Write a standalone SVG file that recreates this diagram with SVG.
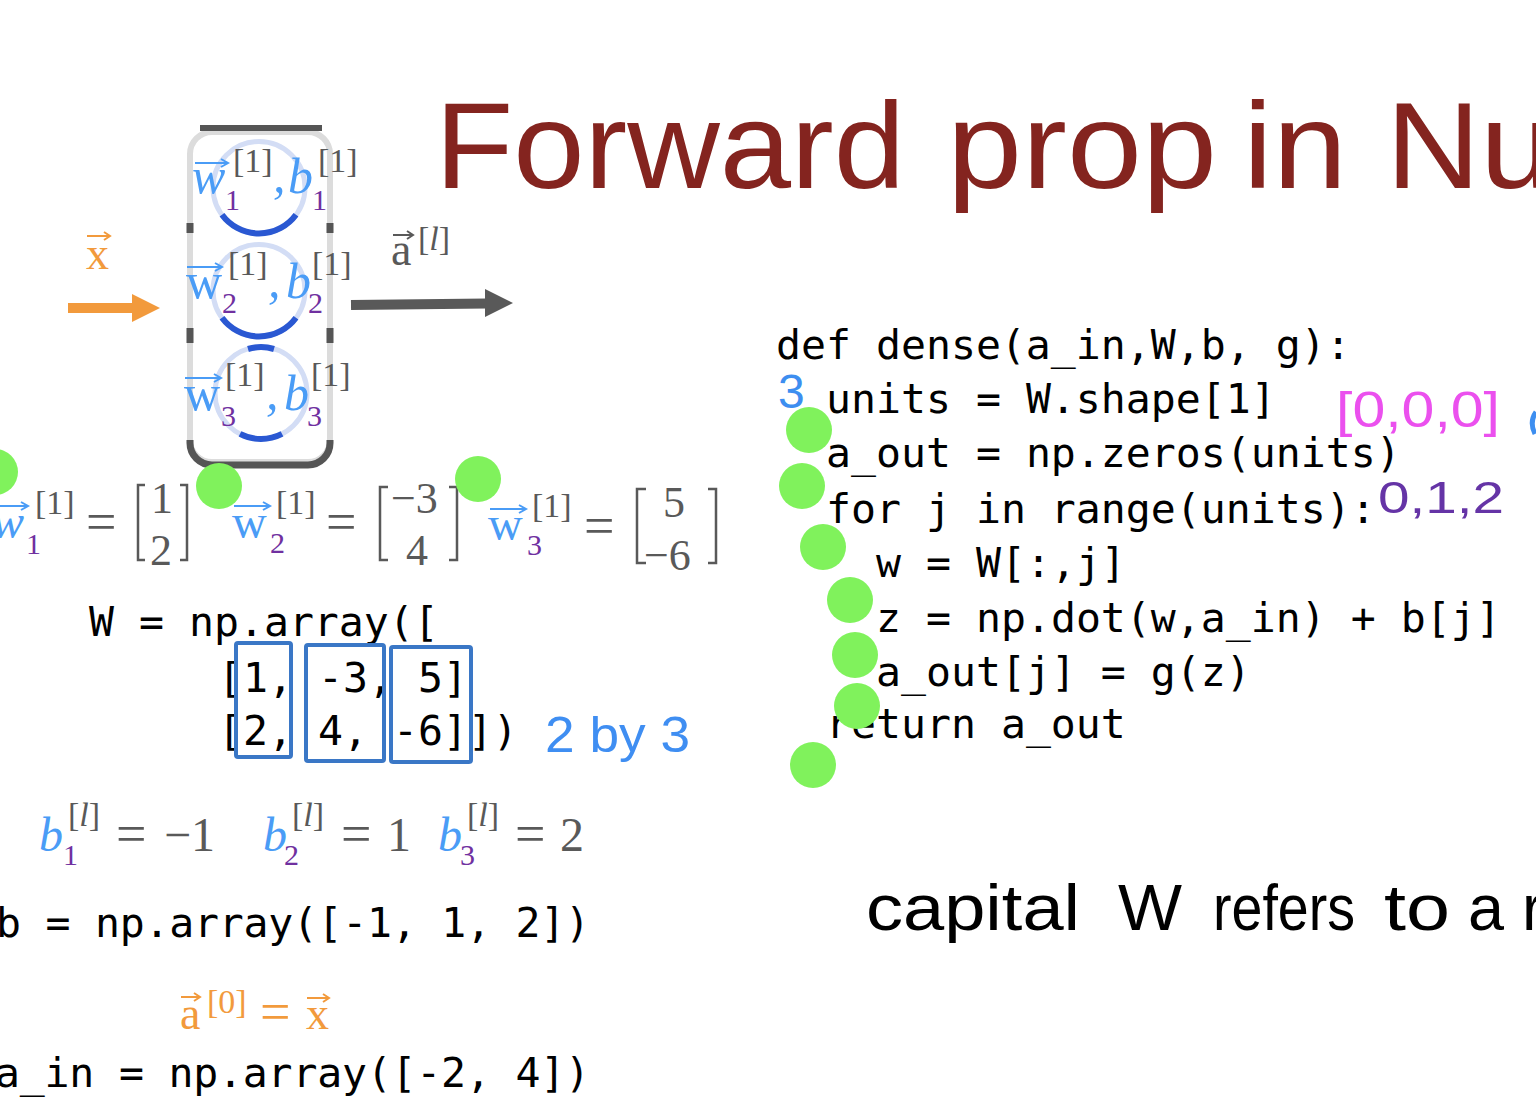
<svg xmlns="http://www.w3.org/2000/svg" width="1536" height="1114" viewBox="0 0 1536 1114">
<style>
.mono{font-family:"DejaVu Sans Mono","Liberation Mono",monospace;font-size:41.5px;fill:#000}
.m{font-family:"Liberation Serif",serif}
.it{font-style:italic}
.blue{fill:#4a9cf6}
.purple{fill:#7030a0}
.gray{fill:#595959}
.orange{fill:#f29a3c}
.main{font-size:50px}
.eq{font-size:48px}
.sup{font-size:34px}
.sub{font-size:30px}
.vec{fill:none;stroke-width:2}
.vb{stroke:#4a9cf6}
.vo{stroke:#f29a3c}
.vg{stroke:#595959}
.br{fill:none;stroke:#595959;stroke-width:2.5}
.green{fill:#80f25c}
.hand{font-family:"Liberation Sans",sans-serif}
.ring{fill:none;stroke:#d3ddf5;stroke-width:5}
.arc{fill:none;stroke:#2a58d2;stroke-width:6}
.box{fill:none;stroke:#3a77c6;stroke-width:4}
</style>

<!-- title -->
<g id="title" font-family="Liberation Sans, sans-serif" font-size="122" fill="#84241f">
<text x="435" y="188" textLength="470" lengthAdjust="spacingAndGlyphs">Forward</text>
<text x="947" y="188" textLength="270" lengthAdjust="spacingAndGlyphs">prop</text>
<text x="1243" y="188" textLength="104" lengthAdjust="spacingAndGlyphs">in</text>
<text x="1386" y="188" textLength="167" lengthAdjust="spacingAndGlyphs">Nu</text>
</g>

<!-- layer box -->
<g id="layer">
<rect x="190" y="132" width="140" height="330" rx="22" fill="none" stroke="#dcdcdc" stroke-width="6"/>
<path d="M200,128 H322" stroke="#555" stroke-width="6" fill="none"/>
<path d="M190,440 V443 A22,22 0 0 0 212,465 H308 A22,22 0 0 0 330,443 V440" stroke="#555" stroke-width="7" fill="none"/>
<path d="M190,223 V233 M190,328 V343 M330,223 V233 M330,328 V343" stroke="#555" stroke-width="7" fill="none"/>
</g>

<g id="neuron1">
<circle class="ring" cx="259" cy="187.5" r="46"/>
<path class="arc" d="M222,214.8 A46,46 0 0 0 296,214.8"/>
<text class="m it blue main" x="192" y="193">w</text>
<path class="vec vb" d="M195,163 H228 M221,159 L228,163 L221,167"/>
<text class="m purple sub" x="225" y="210">1</text>
<text class="m gray sup" x="233" y="172">[1]</text>
<text class="m it blue main" x="273" y="192">,</text>
<text class="m it blue main" x="288" y="193">b</text>
<text class="m purple sub" x="312" y="210">1</text>
<text class="m gray sup" x="318" y="172">[1]</text>
</g>

<g id="neuron2">
<circle class="ring" cx="259" cy="290.5" r="46"/>
<path class="arc" d="M222,317.8 A46,46 0 0 0 296,317.8"/>
<text class="m blue main" x="186" y="298">w</text>
<path class="vec vb" d="M187,267 H222 M215,263 L222,267 L215,271"/>
<text class="m purple sub" x="222" y="313">2</text>
<text class="m gray sup" x="228" y="275">[1]</text>
<text class="m it blue main" x="268" y="297">,</text>
<text class="m it blue main" x="286" y="298">b</text>
<text class="m purple sub" x="308" y="313">2</text>
<text class="m gray sup" x="312" y="275">[1]</text>
</g>

<g id="neuron3">
<circle class="ring" cx="261" cy="393" r="46"/>
<path class="arc" d="M240,433.9 A46,46 0 0 0 282,433.9"/>
<path class="arc" stroke-width="4" d="M248,349 A46,46 0 0 1 274,349"/>
<text class="m blue main" x="184" y="410">w</text>
<path class="vec vb" d="M185,378 H221 M214,374 L221,378 L214,382"/>
<text class="m purple sub" x="221" y="426">3</text>
<text class="m gray sup" x="225" y="386">[1]</text>
<text class="m it blue main" x="266" y="409">,</text>
<text class="m it blue main" x="284" y="410">b</text>
<text class="m purple sub" x="307" y="426">3</text>
<text class="m gray sup" x="311" y="386">[1]</text>
</g>

<g id="input-x">
<text class="m orange" font-size="46" x="86" y="269">x</text>
<path class="vec vo" d="M87,236 H110 M104,232 L110,236 L104,240"/>
</g>

<g id="output-a">
<text class="m gray" font-size="46" x="391" y="265">a</text>
<path class="vec vg" d="M393,235 H413 M407,231 L413,235 L407,239"/>
<text class="m gray sup" x="418" y="250">[<tspan font-style="italic">l</tspan>]</text>
</g>

<g id="connectors">
<path d="M68,308 H134" stroke="#f29a3c" stroke-width="10" fill="none"/>
<polygon points="132,294 160,308 132,322" fill="#f29a3c"/>
<path d="M351,305 L487,303.5" stroke="#595959" stroke-width="10" fill="none"/>
<polygon points="485,289 513,303 485,317" fill="#595959"/>
</g>

<!-- w vectors equations -->
<g id="eq-w1">
<text class="m it blue eq" x="-8" y="538">w</text>
<path class="vec vb" d="M0,506 H28 M21,502 L28,506 L21,510"/>
<text class="m purple sub" x="26" y="554">1</text>
<text class="m gray sup" font-size="36" x="35" y="514">[1]</text>
<text class="m gray" font-size="54" x="86" y="540">=</text>
<path class="br" d="M145,485 H138 V560 H145 M180,485 H187 V560 H180"/>
<text class="m gray" font-size="44" x="151" y="513">1</text>
<text class="m gray" font-size="44" x="150" y="565">2</text>
</g>

<g id="eq-w2">
<text class="m blue eq" x="232" y="538">w</text>
<path class="vec vb" d="M234,506 H270 M263,502 L270,506 L263,510"/>
<text class="m purple sub" x="270" y="553">2</text>
<text class="m gray sup" font-size="36" x="276" y="514">[1]</text>
<text class="m gray" font-size="54" x="326" y="540">=</text>
<path class="br" d="M388,487 H380 V560 H388"/>
<path class="br" stroke="#d8d8d8" d="M449,487 H457 V560 H449"/>
<text class="m gray" font-size="44" x="391" y="513">−3</text>
<text class="m gray" font-size="44" x="406" y="565">4</text>
</g>

<g id="eq-w3">
<text class="m blue eq" x="488" y="540">w</text>
<path class="vec vb" d="M490,509 H526 M519,505 L526,509 L519,513"/>
<text class="m purple sub" x="527" y="555">3</text>
<text class="m gray sup" font-size="36" x="532" y="517">[1]</text>
<text class="m gray" font-size="54" x="584" y="544">=</text>
<path class="br" d="M646,489 H637 V563 H646 M708,489 H716 V563 H708"/>
<text class="m gray" font-size="44" x="663" y="517">5</text>
<text class="m gray" font-size="44" x="644" y="570">−6</text>
</g>

<g id="code-W">
<text class="mono" x="89" y="636">W = np.array([</text>
<text class="mono" x="218" y="692">[1, -3, 5]</text>
<text class="mono" x="218" y="745">[2, 4, -6]])</text>
<rect class="box" x="236" y="643" width="55" height="114" rx="2"/>
<rect class="box" x="306" y="645" width="78" height="116" rx="2"/>
<rect class="box" x="391" y="647" width="80" height="115" rx="2"/>
<text class="hand" font-size="50" fill="#3f8ef2" x="545" y="752" textLength="145" lengthAdjust="spacingAndGlyphs">2 by 3</text>
</g>

<g id="eq-b">
<text class="m it blue eq" x="39" y="851">b</text>
<text class="m purple sub" x="63" y="865">1</text>
<text class="m gray sup" font-size="36" x="68" y="826">[<tspan font-style="italic">l</tspan>]</text>
<text class="m gray" font-size="54" x="116" y="852">=</text>
<text class="m gray eq" x="164" y="851">−1</text>

<text class="m it blue eq" x="263" y="851">b</text>
<text class="m purple sub" x="284" y="865">2</text>
<text class="m gray sup" font-size="36" x="292" y="826">[<tspan font-style="italic">l</tspan>]</text>
<text class="m gray" font-size="54" x="341" y="852">=</text>
<text class="m gray eq" x="387" y="851">1</text>

<text class="m it blue eq" x="438" y="851">b</text>
<text class="m purple sub" x="460" y="865">3</text>
<text class="m gray sup" font-size="36" x="467" y="826">[<tspan font-style="italic">l</tspan>]</text>
<text class="m gray" font-size="54" x="515" y="852">=</text>
<text class="m gray eq" x="560" y="851">2</text>
</g>

<g id="code-b">
<text class="mono" x="-4" y="937" textLength="594">b = np.array([-1, 1, 2])</text>
</g>

<g id="eq-a0">
<text class="m orange" font-size="46" x="180" y="1029">a</text>
<path class="vec vo" d="M181,997 H200 M194,993 L200,997 L194,1001"/>
<text class="m orange sup" font-size="36" x="207" y="1013">[0]</text>
<text class="m orange" font-size="54" x="260" y="1030">=</text>
<text class="m orange" font-size="46" x="306" y="1029">x</text>
<path class="vec vo" d="M307,998 H329 M323,994 L329,998 L323,1002"/>
</g>

<g id="code-ain">
<text class="mono" x="-5" y="1087" textLength="595">a_in = np.array([-2, 4])</text>
</g>

<g id="code-dense">
<text class="mono" x="776" y="359">def dense(a_in,W,b, g):</text>
<text class="mono" x="826" y="413">units = W.shape[1]</text>
<text class="mono" x="826" y="467">a_out = np.zeros(units)</text>
<text class="mono" x="826" y="523">for j in range(units):</text>
<text class="mono" x="876" y="577">w = W[:,j]</text>
<text class="mono" x="876" y="632">z = np.dot(w,a_in) + b[j]</text>
<text class="mono" x="876" y="686">a_out[j] = g(z)</text>
<text class="mono" x="826" y="738">return a_out</text>
</g>

<g id="annotations">
<text class="hand" font-size="48" fill="#3d8ef0" x="778" y="408">3</text>
<text class="hand" font-size="50" fill="#eb50ee" x="1336" y="427" textLength="164" lengthAdjust="spacingAndGlyphs">[0,0,0]</text>
<text class="hand" font-size="44" fill="#6534a6" x="1378" y="513" textLength="126" lengthAdjust="spacingAndGlyphs">0,1,2</text>
<path d="M1536,412 Q1529,422 1535,434" stroke="#3d8ef0" stroke-width="5" fill="none"/>
</g>

<g id="note" class="hand" font-size="64" fill="#000">
<text x="866" y="930" textLength="214" lengthAdjust="spacingAndGlyphs">capital</text>
<text x="1118" y="930" textLength="64" lengthAdjust="spacingAndGlyphs">W</text>
<text x="1213" y="930" textLength="142" lengthAdjust="spacingAndGlyphs">refers</text>
<text x="1384" y="930" textLength="66" lengthAdjust="spacingAndGlyphs">to</text>
<text x="1468" y="930" textLength="36" lengthAdjust="spacingAndGlyphs">a</text>
<text x="1522" y="930">r</text>
</g>

<g id="markers">
<circle class="green" cx="-5" cy="472" r="23"/>
<circle class="green" cx="219" cy="486" r="23"/>
<circle class="green" cx="478" cy="479" r="23"/>
<circle class="green" cx="809" cy="430" r="23"/>
<circle class="green" cx="802" cy="486" r="23"/>
<circle class="green" cx="823" cy="547" r="23"/>
<circle class="green" cx="850" cy="600" r="23"/>
<circle class="green" cx="855" cy="655" r="23"/>
<circle class="green" cx="857" cy="706" r="23"/>
<circle class="green" cx="813" cy="765" r="23"/>
</g>
</svg>
